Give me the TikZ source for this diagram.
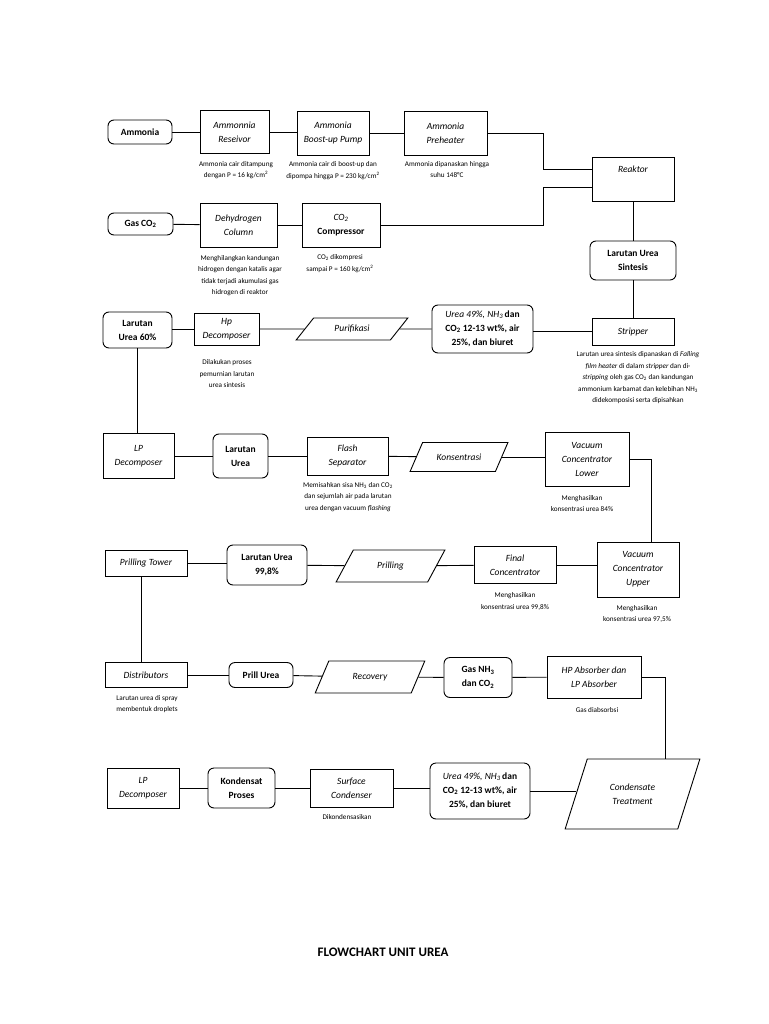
\documentclass[tikz,border=0pt]{standalone}
\usepackage{fontspec}
\setmainfont{Carlito}
\usetikzlibrary{shapes.geometric}
\tikzstyle{unit} = [rectangle, draw=black, line width=.9pt, align=center, inner sep=1pt, font=\itshape\fontsize{9.5}{14}\selectfont]
\tikzstyle{flow} = [unit, rounded corners=6pt, font=\bfseries\fontsize{9.5}{14}\selectfont]
\tikzstyle{proc} = [trapezium, trapezium stretches=true, draw=black, line width=.9pt, align=center, inner sep=1pt, font=\itshape\fontsize{9.5}{14}\selectfont]
\tikzstyle{note} = [align=center, inner sep=0pt, font=\fontsize{7.2}{11.5}\selectfont]
\tikzstyle{pipe} = [line width=.9pt]
\newcommand{\dn}[1]{\textsubscript{#1}}
\newcommand{\cmsq}{kg/cm\textsuperscript{2}}
\newcommand{\mixtext}{\textmd{\textit{Urea 49\%, NH\dn{3}}}\,dan\\CO\dn{2} 12-13 wt\%, air\\25\%, dan biuret}

\begin{document}
\begin{tikzpicture}[x=1pt, y=-1pt]
\useasboundingbox (0,0) rectangle (768,1024);
\node (amm) [flow, minimum width=64pt, minimum height=24pt] at (140,132) {Ammonia};
\node (res) [unit, minimum width=69pt, minimum height=43pt] at (234.5,132) {Ammonnia\\Reseivor};
\node (pump) [unit, minimum width=72pt, minimum height=44pt] at (333,133) {Ammonia\\Boost-up Pump};
\node (pre) [unit, minimum width=83pt, minimum height=44pt] at (445.5,133) {Ammonia\\Preheater};
\node (rea) [unit, minimum width=82pt, minimum height=44pt, text height=7pt, text depth=20pt] at (633,179) {Reaktor};
\node (co2) [flow, minimum width=65pt, minimum height=22pt] at (140.5,224) {Gas CO\dn{2}};
\node (dehy) [unit, minimum width=77pt, minimum height=44pt] at (238.5,225) {Dehydrogen\\Column};
\node (comp) [unit, minimum width=78pt, minimum height=44pt] at (341,225) {CO\dn{2}\\{\bfseries\upshape Compressor}};
\node (sin) [flow, minimum width=86pt, minimum height=39pt] at (633,260.5) {Larutan Urea\\Sintesis};
\node (strip) [unit, minimum width=82pt, minimum height=27pt] at (633,331.5) {Stripper};
\node (mix1) [flow, minimum width=101pt, minimum height=48pt] at (482.5,329) {\mixtext};
\node (puri) [proc, minimum width=112pt, minimum height=22pt, trapezium left angle=49, trapezium right angle=131] at (352,329) {Purifikasi};
\node (hp) [unit, minimum width=65pt, minimum height=32pt] at (226.5,329) {Hp\\Decomposer};
\node (l60) [flow, minimum width=69pt, minimum height=36pt] at (137.5,330) {Larutan\\Urea 60\%};
\node (lp1) [unit, minimum width=71pt, minimum height=45pt] at (138.5,456) {LP\\Decomposer};
\node (lu) [flow, minimum width=55pt, minimum height=44pt] at (240.5,456) {Larutan\\Urea};
\node (flash) [unit, minimum width=81pt, minimum height=38pt] at (347.5,456) {Flash\\Separator};
\node (kons) [proc, minimum width=98pt, minimum height=29pt, trapezium left angle=47, trapezium right angle=133] at (459,457) {Konsentrasi};
\node (vcl) [unit, minimum width=84pt, minimum height=54pt] at (587,459) {Vacuum\\Concentrator\\Lower};
\node (tower) [unit, minimum width=82pt, minimum height=26pt] at (146,563) {Prilling Tower};
\node (l99) [flow, minimum width=80pt, minimum height=40pt] at (267,565) {Larutan Urea\\99,8\%};
\node (prill) [proc, minimum width=109pt, minimum height=32pt, trapezium left angle=57, trapezium right angle=123] at (390.5,566) {Prilling};
\node (final) [unit, minimum width=82pt, minimum height=37pt] at (515,565) {Final\\Concentrator};
\node (vcu) [unit, minimum width=82pt, minimum height=55pt] at (638,569.5) {Vacuum\\Concentrator\\Upper};
\node (dist) [unit, minimum width=82pt, minimum height=25pt] at (146,675) {Distributors};
\node (pu) [flow, minimum width=64pt, minimum height=25pt] at (261,675) {Prill Urea};
\node (reco) [proc, minimum width=110pt, minimum height=32pt, trapezium left angle=58, trapezium right angle=122] at (370,677) {Recovery};
\node (gas) [flow, minimum width=68pt, minimum height=40pt] at (478,677.5) {Gas NH\dn{3}\\dan CO\dn{2}};
\node (abs) [unit, minimum width=94pt, minimum height=42pt] at (594,677) {HP Absorber dan\\LP Absorber};
\node (lp2) [unit, minimum width=72pt, minimum height=40pt] at (143,788) {LP\\Decomposer};
\node (kp) [flow, minimum width=67pt, minimum height=40pt] at (241.5,788) {Kondensat\\Proses};
\node (surf) [unit, minimum width=83pt, minimum height=38pt] at (351.5,788) {Surface\\Condenser};
\node (mix2) [flow, minimum width=100pt, minimum height=56pt] at (480,791) {\mixtext};
\node (cond) [proc, minimum width=135pt, minimum height=70pt, trapezium left angle=63, trapezium right angle=117] at (632.5,794) {Condensate\\Treatment};
\node (nres) [note] at (236,170) {Ammonia cair ditampung\\dengan P = 16 \cmsq};
\node (npump) [note] at (333,170.5) {Ammonia cair di boost-up dan\\dipompa hingga P = 230 \cmsq};
\node (npre) [note] at (447,169.5) {Ammonia dipanaskan hingga\\suhu 148°C};
\node (ndehy) [note] at (240,275.5) {Menghilangkan kandungan\\hidrogen dengan katalis agar\\tidak terjadi akumulasi gas\\hidrogen di reaktor};
\node (ncomp) [note] at (340,263.5) {CO\dn{2} dikompresi\\sampai P = 160 \cmsq};
\node (nstrip) [note] at (638,378) {Larutan urea sintesis dipanaskan di \textit{Falling}\\\textit{film heater} di dalam \textit{stripper} dan di-\\\textit{stripping} oleh gas CO\dn{2} dan kandungan\\ammonium karbamat dan kelebihan NH\dn{3}\\didekomposisi serta dipisahkan};
\node (nhp) [note] at (227,374) {Dilakukan proses\\pemurnian larutan\\urea sintesis};
\node (nflash) [note] at (348,497) {Memisahkan sisa NH\dn{3} dan CO\dn{2}\\dan sejumlah air pada larutan\\urea dengan vacuum \textit{flashing}};
\node (nvcl) [note] at (582,503.5) {Menghasilkan\\konsentrasi urea 84\%};
\node (nfinal) [note] at (515,601.5) {Menghasilkan\\konsentrasi urea 99,8\%};
\node (nvcu) [note] at (637,614) {Menghasilkan\\konsentrasi urea 97,5\%};
\node (ndist) [note] at (147,704) {Larutan urea di spray\\membentuk droplets};
\node (nabs) [note] at (597,710) {Gas diabsorbsi};
\node (nsurf) [note] at (347,817) {Dikondensasikan};
\node (title) [font=\bfseries\fontsize{13}{15}\selectfont] at (383,952) {FLOWCHART UNIT UREA};
\coordinate (j1) at (543,0);
\coordinate (j2) at (651,0);
\coordinate (j3) at (665,0);
\draw[pipe] (amm) -- (res);
\draw[pipe] (res.east) -- (res.east -| pump.west);
\draw[pipe] (pump) -- (pre);
\draw[pipe] (pre.east) -- (pre.east -| j1) |- ([yshift=10pt]rea.west);
\draw[pipe] (comp.east) -- (comp.east -| j1) |- ([yshift=-8pt]rea.west);
\draw[pipe] (co2) -- (dehy);
\draw[pipe] (dehy) -- (comp);
\draw[pipe] (rea) -- (sin);
\draw[pipe] (sin) -- (strip);
\draw[pipe] (strip.west) -- (strip.west -| mix1.east);
\draw[pipe] (mix1) -- (puri);
\draw[pipe] (puri) -- (hp);
\draw[pipe] (hp.west) -- (hp.west -| l60.east);
\draw[pipe] (l60.south) -- (l60.south |- lp1.north);
\draw[pipe] (lp1) -- (lu);
\draw[pipe] (lu) -- (flash);
\draw[pipe] (flash) -- (kons);
\draw[pipe] (kons.east) -- (kons.east -| vcl.west);
\draw[pipe] (vcl.east) -| (j2 |- vcu.north);
\draw[pipe] (final.east) -- (final.east -| vcu.west);
\draw[pipe] (prill) -- (final);
\draw[pipe] (l99) -- (prill);
\draw[pipe] (tower.east) -- (tower.east -| l99.west);
\draw[pipe] ([xshift=-5pt]tower.south) -- ([xshift=-5pt]dist.north);
\draw[pipe] (dist) -- (pu);
\draw[pipe] (pu) -- (reco);
\draw[pipe] (reco) -- (gas);
\draw[pipe] (gas) -- (abs);
\draw[pipe] (abs.east) -| (j3 |- cond.north);
\draw[pipe] (mix2.east) -- (mix2.east -| cond.west);
\draw[pipe] (surf) -- (mix2.west |- surf);
\draw[pipe] (kp) -- (surf);
\draw[pipe] (lp2) -- (kp);
\end{tikzpicture}
\end{document}
